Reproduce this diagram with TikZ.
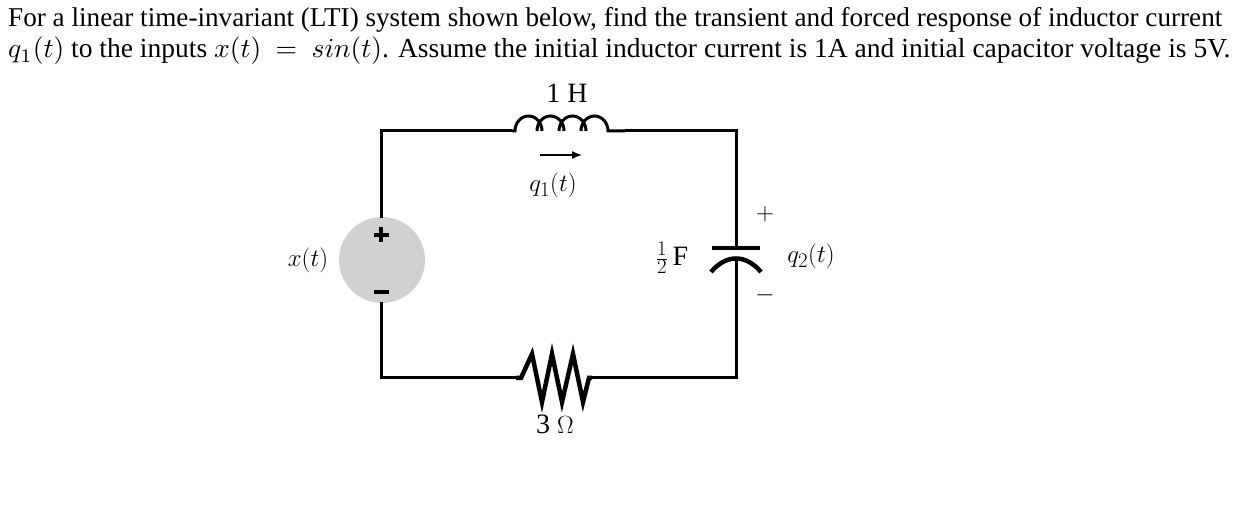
\documentclass[tikz,border=0pt]{standalone}
\usepackage{graphicx}
\usepackage{fontspec}
\setmainfont{Liberation Serif}
\usetikzlibrary{arrows.meta}
\begin{document}
\begin{tikzpicture}[x=1pt,y=-1pt,
  wire/.style={line width=3pt},
  lbl/.style={font=\fontsize{28}{30}\selectfont, inner sep=0pt},
  sgn/.style={font=\fontsize{26}{28}\selectfont, inner sep=0pt}]
\useasboundingbox (0,0) rectangle (1237,510);
\node[anchor=west,inner sep=0pt] (l1) at (8,20) {\resizebox{1214pt}{!}{For a linear time-invariant (LTI) system shown below, find the transient and forced response of inductor current}};
\node[anchor=west,inner sep=0pt] (l2) at (8,51) {\resizebox{1222pt}{!}{$q_1(t)$ to the inputs $x(t)\ =\ sin(t)$. Assume the initial inductor current is 1A and initial capacitor voltage is 5V.}};
% coordinates
\coordinate (tl) at (381,131); \coordinate (tr) at (736,131);
\coordinate (bl) at (381,378); \coordinate (br) at (736,378);
\coordinate (ia) at (512,131); \coordinate (ib) at (625,131);
\coordinate (ra) at (516,378); \coordinate (rb) at (592,378);
\coordinate (st) at (381,218); \coordinate (sb) at (381,302);
\coordinate (ct) at (736,248); \coordinate (cb) at (736,258);
\node[circle,fill=black!18,minimum size=86pt,inner sep=0pt] (src) at (382,260) {};
\node[fill=black,minimum width=4.5pt,minimum height=15pt,inner sep=0pt] (plusv) at (381,235) {};
\node[fill=black,minimum width=15pt,minimum height=4.5pt,inner sep=0pt] (plush) at (381,235) {};
\node[fill=black,minimum width=15pt,minimum height=4.5pt,inner sep=0pt] (minus) at (381,292) {};
\draw[wire] (st) -- (tl) -- (ia);
\draw[wire] (ia) -- ++(3,0) arc(180:360:13.5 and 15) ++(-5,0) arc(180:360:13.5 and 15) ++(-5,0) arc(180:360:13.5 and 15) ++(-5,0) arc(180:360:13.5 and 15) -- (ib);
\draw[wire] (ib) -- (tr) -- (ct);
\draw[wire] (cb) -- (br) -- (rb);
\draw[line width=4.5pt,line join=miter,miter limit=20] (ra) -- (521,378) -- (532,354) -- (542,402) -- (552,354) -- (562,402) -- (573,354) -- (583,402) -- (589,378) -- (rb);
\draw[wire] (ra) -- (bl) -- (sb);
% capacitor
\draw[line width=4pt] (712,248) -- (760,248);
\draw[line width=4.5pt] (711,272) .. controls (726,254) and (746,254) .. (761,272);
% arrow
\coordinate (aa) at (540,155); \coordinate (ab) at (582,155);
\draw[line width=1.4pt,-{Latex[length=10pt,width=8pt]}] (aa) -- (ab);
% labels
\node[lbl] (L) at (567,93) {1 H};
\node[lbl] (q1) at (553,185) {$q_1(t)$};
\node[lbl] (C) at (672,258) {$\frac{1}{2}$\,F};
\node[sgn] (cp) at (765,214) {$+$};
\node[sgn] (cm) at (765,295) {$-$};
\node[lbl] (q2) at (811,256) {$q_2(t)$};
\node[lbl] (x) at (308,260) {$x(t)$};
\node[lbl] (R) at (555,424) {3 $\Omega$};
\end{tikzpicture}
\end{document}
